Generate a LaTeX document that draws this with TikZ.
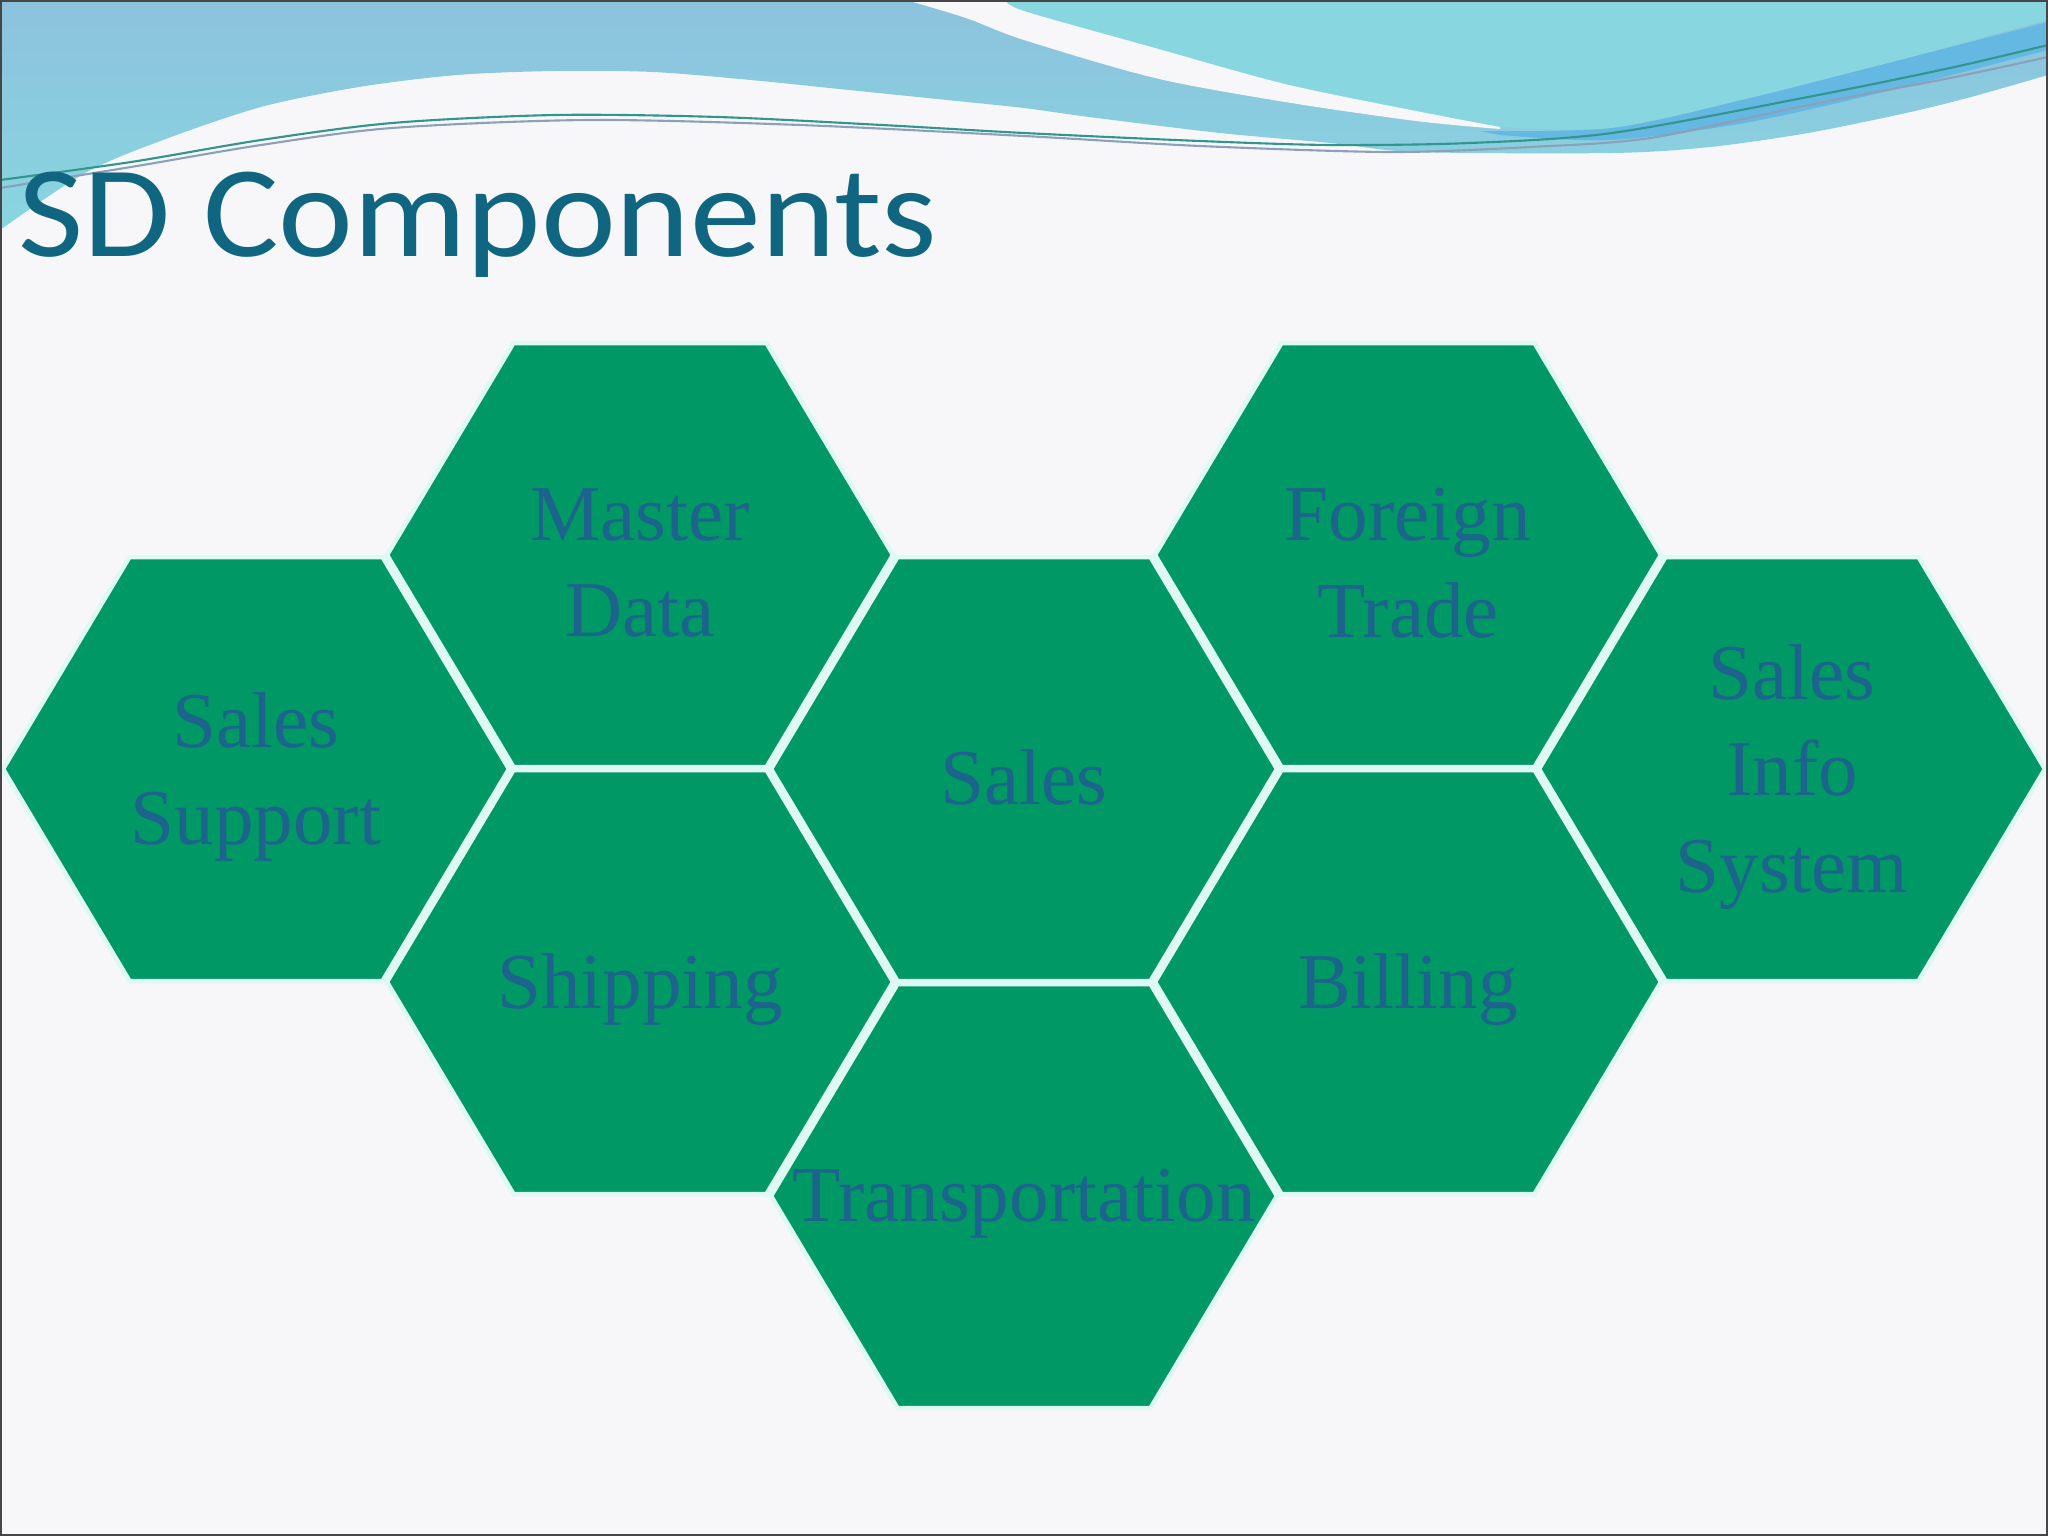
\documentclass[tikz,border=0pt]{standalone}
\usepackage{fontspec}
\setmainfont{Liberation Serif}
\newfontfamily\titlefont[FakeStretch=1.09]{Carlito}
\usetikzlibrary{positioning}

\definecolor{paper}{RGB}{247,247,249}
\definecolor{hexgreen}{RGB}{0,153,102}
\definecolor{hexedge}{RGB}{222,248,243}
\definecolor{labelblue}{RGB}{28,100,140}
\definecolor{titleteal}{RGB}{16,102,128}
\definecolor{waveleft}{RGB}{140,194,222}
\definecolor{waveright}{RGB}{136,214,224}
\definecolor{wavedark}{RGB}{100,184,226}
\definecolor{lineteal}{RGB}{50,150,140}
\definecolor{linegrey}{RGB}{140,160,185}
\definecolor{framegrey}{RGB}{70,70,70}

\begin{document}
\begin{tikzpicture}[
    x=0.01cm, y=-0.01cm,
    hexcell/.style={fill=hexgreen, draw=hexedge, line width=0.045cm, line join=miter},
    hexlabel/.style={text=labelblue, align=center, inner sep=0pt,
        font=\fontsize{22.5}{27.5}\selectfont},
    titletext/.style={text=titleteal, inner sep=0pt, anchor=base west,
        font=\titlefont\fontsize{37}{44}\selectfont},
    waveline/.style={line width=0.6pt}
]
\useasboundingbox (0,0) rectangle (2048,1536);

% Background and wave
\fill[paper] (0,0) rectangle (2048,1536);
\shade[top color=waveleft, bottom color=waveright] (0,0) -- (2048,0) -- (2048,75)
    -- plot[smooth] coordinates {(2048,75) (1971,97) (1906,113) (1808,133) (1710,147) (1612,153)
       (1416,152) (1331,143) (1220,133) (1089,117) (1024,108) (947,100) (849,90) (751,80)
       (653,72) (555,71) (457,75) (359,87) (261,107) (163,140) (85,173) (0,230)}
    -- cycle;
\fill[waveright] (1006,0)
    -- plot[smooth] coordinates {(1006,0) (1024,11) (1155,48) (1285,84) (1416,111) (1500,127)}
    -- plot[smooth] coordinates {(1500,127) (1612,128) (1742,100) (1873,67) (2048,20)}
    -- (2048,0) -- cycle;
\fill[paper] plot[smooth] coordinates {(906,0) (966,18) (1024,40) (1155,78) (1285,102) (1416,121) (1500,129)}
    -- plot[smooth] coordinates {(1500,127) (1416,111) (1285,84) (1155,48) (1024,11) (1006,0)} -- cycle;
\fill[wavedark] plot[smooth] coordinates {(1480,131) (1612,128) (1742,100) (1873,67) (2048,22)}
    -- plot[smooth] coordinates {(2048,50) (1900,88) (1750,122) (1612,140) (1500,135)} -- cycle;
\draw[waveline, lineteal] plot[smooth] coordinates {(0,180) (131,162) (261,140) (392,123)
    (555,115) (718,117) (882,125) (1024,133) (1200,141) (1331,145) (1470,143) (1612,133)
    (1808,97) (1950,68) (2048,45)};
\draw[waveline, linegrey] plot[smooth] coordinates {(0,188) (131,167) (261,145) (392,128)
    (588,120) (800,125) (1024,136) (1200,146) (1390,152) (1530,147) (1650,138) (1808,105)
    (1950,78) (2048,57)};

% Title
\node[titletext] (title) at (18,256) {SD Components};

% Hexagons
\foreach \cx/\cy in {256/769, 640/555, 640/982, 1024/769, 1024/1196, 1408/555, 1408/982, 1792/769}
  \draw[hexcell] (\cx,\cy) +(-253,0) -- +(-126.5,-212) -- +(126.5,-212) -- +(253,0)
      -- +(126.5,212) -- +(-126.5,212) -- cycle;

% Labels
\node[hexlabel] (support) at (256,777) {Sales\\Support};
\node[hexlabel] (master) at (640,563) {Master\\Data};
\node[hexlabel] (shipping) at (640,990) {Shipping};
\node[hexlabel] (sales) at (1024,777) {Sales};
\node[hexlabel] (transport) at (1024,1204) {Transportation};
\node[hexlabel] (foreign) at (1408,563) {Foreign\\Trade};
\node[hexlabel] (billing) at (1408,990) {Billing};
\node[hexlabel] (info) at (1792,777) {Sales\\Info\\System};

% Frame
\draw[framegrey, line width=0.02cm] (1,1) rectangle (2047,1535);
\end{tikzpicture}
\end{document}
